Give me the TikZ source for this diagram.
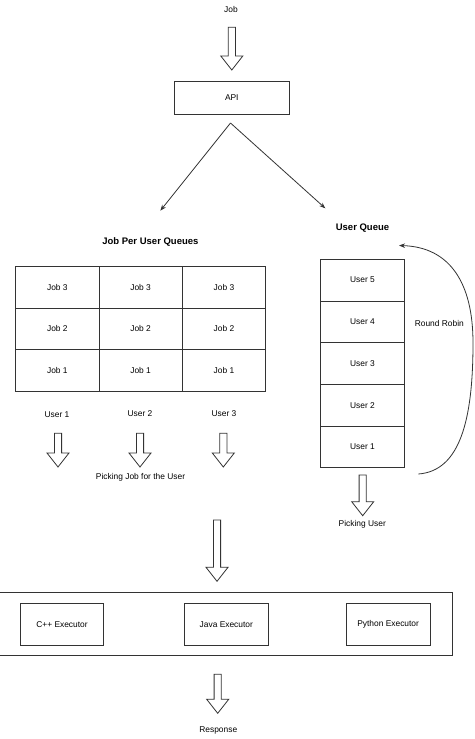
\documentclass[tikz,border=0pt]{standalone}
\usepackage{fontspec}
\setmainfont{Liberation Sans}
\usetikzlibrary{arrows.meta,calc}
\definecolor{linec}{HTML}{333333}
\newcommand\blockarrow[2]{\draw[blockarr] let \p1=(#1), \p2=(#2) in
  (\x1-3.6pt,\y1) -- (\x1+3.6pt,\y1) -- (\x1+3.6pt,\y2+14pt) -- (\x1+11pt,\y2+14pt)
  -- (\x1,\y2) -- (\x1-11pt,\y2+14pt) -- (\x1-3.6pt,\y2+14pt) -- cycle;}
\begin{document}
\begin{tikzpicture}[x=1pt,y=-1pt,
  txt/.style={inner sep=0pt,font=\fontsize{8.4}{10}\selectfont},
  title/.style={inner sep=0pt,font=\fontsize{9.5}{11}\selectfont\bfseries},
  cell/.style={draw=linec,line width=0.8pt,minimum width=83.3pt,minimum height=41.5pt,inner sep=0pt,outer sep=0pt,font=\fontsize{8.4}{10}\selectfont},
  scell/.style={cell,minimum width=83.6pt,minimum height=41.7pt},
  ebox/.style={cell,minimum width=83.7pt,minimum height=41.7pt},
  blockarr/.style={draw=linec,line width=0.8pt,fill=white,line join=miter},
  conn/.style={draw=linec,line width=0.8pt,-{Stealth[length=6pt,width=4.5pt]}}]
\useasboundingbox (0,0) rectangle (474,739);
\fill[white] (0,0) rectangle (474,739);

% Job and API
\node[txt] (job) at (231,9) {Job};
\coordinate (a1s) at (231.8,27.3); \coordinate (a1t) at (231.8,70);
\blockarrow{a1s}{a1t}
\node[cell,minimum width=115pt,minimum height=33pt] (api) at (231.8,97.5) {API};

% split
\coordinate (split) at (230.5,123);
\coordinate (lend) at (160.3,210.7);
\coordinate (rend) at (325.3,208.3);
\draw[conn] (split) -- (lend);
\draw[conn] (split) -- (rend);

\node[title] (jpuq) at (150.4,242) {Job Per User Queues};
\node[title] (uq) at (362.5,228.5) {User Queue};

% grid
\foreach \c/\x in {1/57.35,2/140.65,3/223.95}{
  \node[cell] (g3\c) at (\x,287.5) {Job 3};
  \node[cell] (g2\c) at (\x,328.9) {Job 2};
  \node[cell] (g1\c) at (\x,370.3) {Job 1};
}
\node[txt] (u1) at (57,414.8) {User 1};
\node[txt] (u2) at (140,414) {User 2};
\node[txt] (u3) at (224,414) {User 3};
\coordinate (b1s) at (58,433.3); \coordinate (b1t) at (58,467);
\coordinate (b2s) at (140,433.3); \coordinate (b2t) at (140,467);
\coordinate (b3s) at (223.3,433.3); \coordinate (b3t) at (223.3,467);
\blockarrow{b1s}{b1t}
\blockarrow{b2s}{b2t}
\blockarrow{b3s}{b3t}
\node[txt] (pick) at (140.5,477) {Picking Job for the User};

% user stack
\node[scell] (s5) at (362.5,280.1) {User 5};
\node[scell] (s4) at (362.5,321.8) {User 4};
\node[scell] (s3) at (362.5,363.5) {User 3};
\node[scell] (s2) at (362.5,405.2) {User 2};
\node[scell] (s1) at (362.5,446.9) {User 1};
\coordinate (c1s) at (362.7,475); \coordinate (c1t) at (362.7,515.7);
\blockarrow{c1s}{c1t}
\node[txt] (pu) at (362.3,524.5) {Picking User};

% round robin
\node[txt] (rr) at (439.3,323.5) {Round Robin};
\coordinate (rrs) at (418.3,474);
\coordinate (rrm) at (473,343);
\coordinate (rrt) at (399,245.5);
\draw[conn] (rrs) .. controls (460,471) and (473,420) .. (rrm)
  .. controls (473,283) and (450,247) .. (rrt);

% to executors
\coordinate (d1s) at (217,520); \coordinate (d1t) at (217,581.3);
\blockarrow{d1s}{d1t}
\node[draw=linec,line width=0.8pt,minimum width=453.7pt,minimum height=62.6pt,inner sep=0pt] (exec) at (225.85,624) {};
\node[ebox] (cpp) at (62,624.15) {C++ Executor};
\node[ebox] (java) at (226.3,624.15) {Java Executor};
\node[ebox] (py) at (388.15,624.15) {Python Executor};

\coordinate (e1s) at (217.7,674.3); \coordinate (e1t) at (217.7,713.3);
\blockarrow{e1s}{e1t}
\node[txt] (resp) at (218.3,730) {Response};
\end{tikzpicture}
\end{document}
